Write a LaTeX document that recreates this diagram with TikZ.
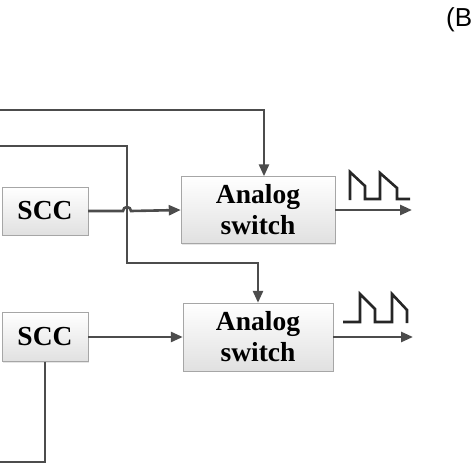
\documentclass[tikz,border=0pt]{standalone}
\usepackage{fontspec}
\setmainfont{Liberation Serif}
\newfontfamily\tagfont{Liberation Sans}
\usetikzlibrary{positioning,arrows.meta,shadows}

\tikzset{
  block/.style={draw=black!35, top color=white, bottom color=black!12,
    font=\fontsize{27.5}{31}\selectfont\bfseries, align=center, inner sep=0pt,
    drop shadow={opacity=0.2, shadow xshift=1pt, shadow yshift=-1pt}},
  wire/.style={draw=black!70, line width=2.6pt},
  pulse/.style={draw=black!85, line width=2.6pt},
  >={Triangle[length=12pt,width=10pt]}
}

\begin{document}
\begin{tikzpicture}[x=1pt,y=-1pt]
            \useasboundingbox (0,0) rectangle (474,474);
            \node[block, minimum width=86pt, minimum height=48pt] (scc1) at (45,211) {SCC};
            \node[block, minimum width=154pt, minimum height=67pt] (sw1) at (258,210) {Analog\\switch};
            \node[block, minimum width=86pt, minimum height=49pt] (scc2) at (45,337) {SCC};
            \node[block, minimum width=150pt, minimum height=68pt] (sw2) at (258,337) {Analog\\switch};
            \node[font=\tagfont\fontsize{26}{31}\selectfont, inner sep=0pt, anchor=west] (tag) at (446,20) {(B};
            % free ends
            \coordinate (in1) at (0,110);
            \coordinate (in2) at (0,146);
            \coordinate (bend) at (127,263);
            \coordinate (hop) at (123,211);
            \coordinate (out1) at (412,210);
            \coordinate (out2) at (413,337);
            \coordinate (in3) at (0,462);
            % connectors
            \draw[wire,->] (in1) -| ([xshift=6pt]sw1.north);
            \draw[wire,->] (in2) -| (bend) -| (sw2.north);
            \draw[wire,->] (scc1.east) -- (hop) arc[start angle=180, end angle=0, radius=4pt] -- (sw1.west);
            \draw[wire,->] (sw1.east) -- (out1);
            \draw[wire,->] (scc2.east) -- (sw2.west);
            \draw[wire,->] (sw2.east) -- (out2);
            \draw[wire] (scc2.south) |- (in3);
            % output pulses
            \draw[pulse] (350,200) -- (350,172) -- (365,186) -- (365,199) -- (380,199)
                -- (380,173) -- (397,188) -- (397,199) -- (410,199);
            \draw[pulse] (343,322) -- (360,322) -- (360,294) -- (375,309) -- (375,322)
                -- (392,322) -- (392,294) -- (407,310) -- (407,323);
        \end{tikzpicture}
\end{document}
